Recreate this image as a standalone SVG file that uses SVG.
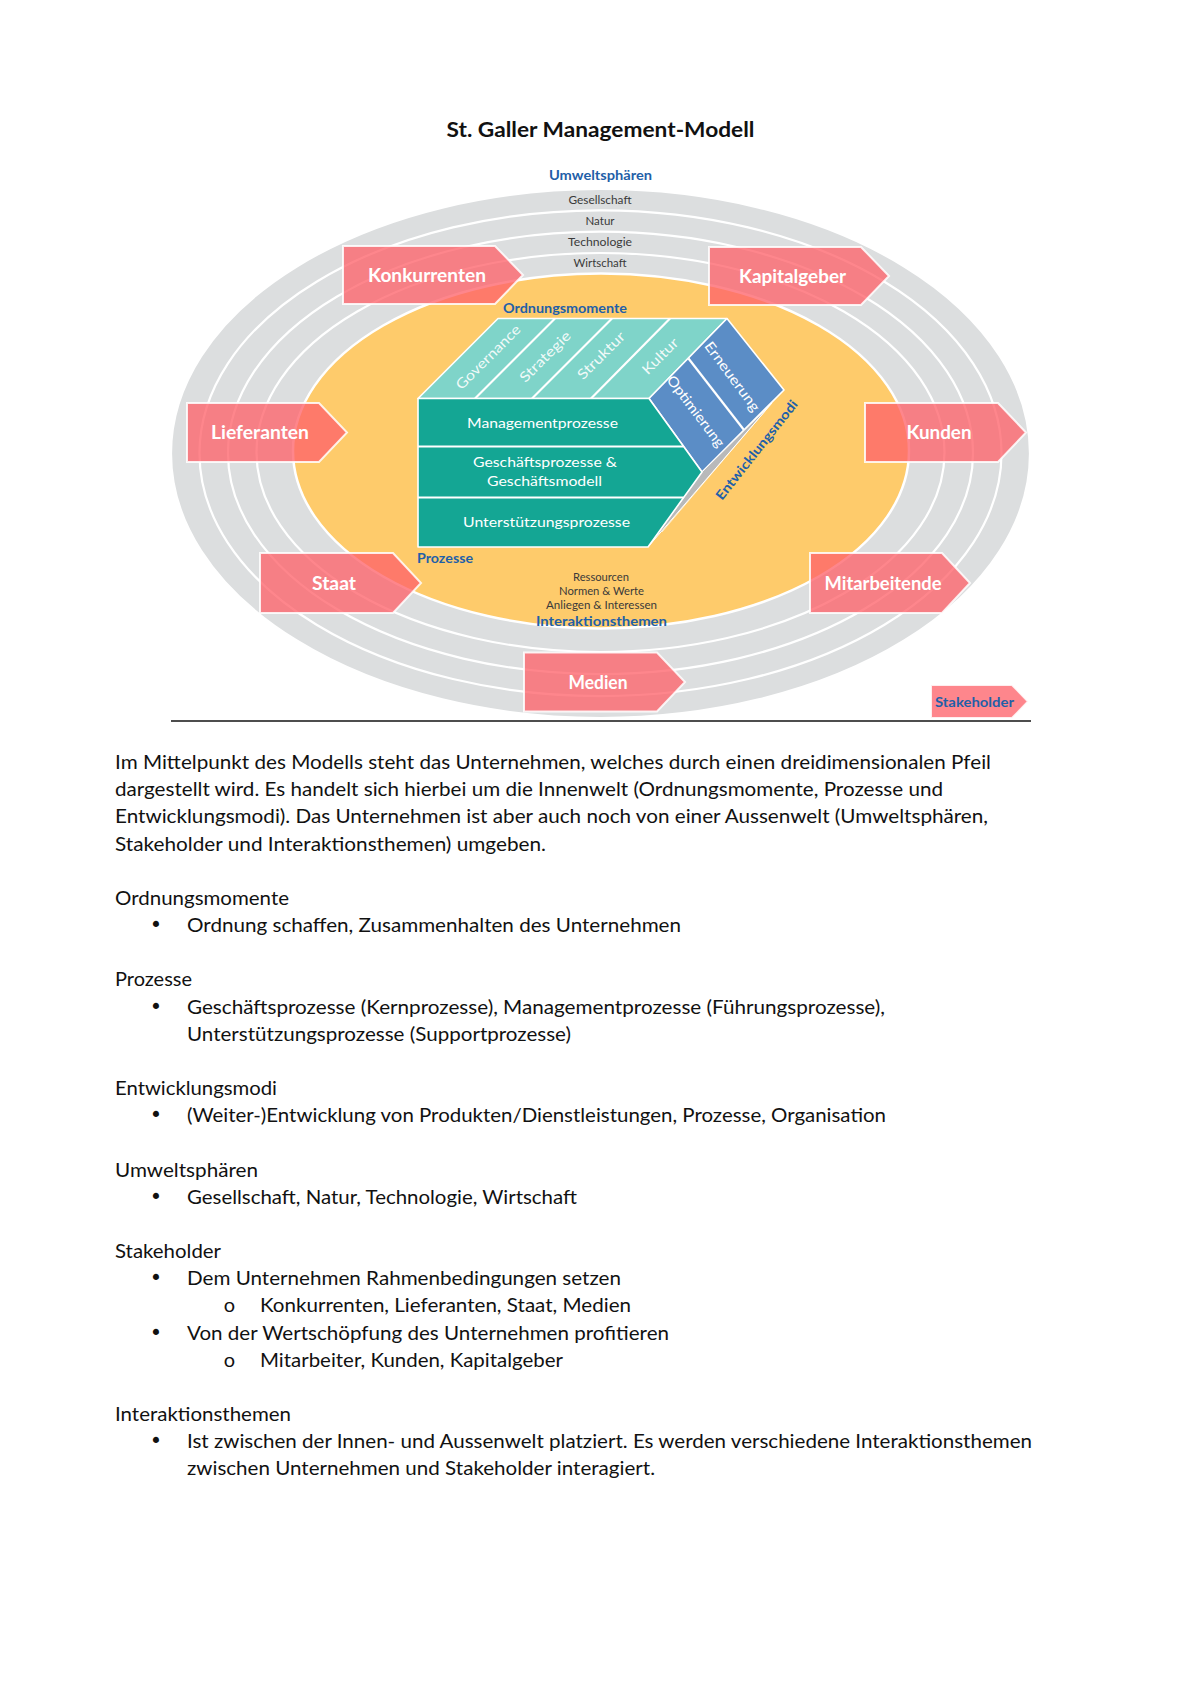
<svg xmlns="http://www.w3.org/2000/svg" width="1200" height="1698" viewBox="0 0 1200 1698">
<style>
  .ring{fill:#dcdedf;stroke:#ffffff;stroke-width:2.2}
  .sep{fill:none;stroke:#ffffff;stroke-width:2.2}
  .arrow{fill:#fe626a;fill-opacity:0.77;stroke:#ffffff;stroke-width:2;stroke-opacity:0.85}
  .alab{font-family:Lato,'Liberation Sans',sans-serif;font-weight:bold;font-size:18px;fill:#ffffff;text-anchor:middle}
  .blue{font-family:Lato,'Liberation Sans',sans-serif;font-weight:bold;font-size:13px;fill:#1f60a8;text-anchor:middle}
  .ringlab{font-family:Lato,'Liberation Sans',sans-serif;font-size:11px;fill:#3a3a3a;text-anchor:middle}
  .face{stroke:#ffffff;stroke-width:1.6;stroke-linejoin:round}
  .wline{stroke:#ffffff;stroke-width:2.2}
  .wtxt{font-family:Lato,'Liberation Sans',sans-serif;font-size:14px;fill:#ffffff;text-anchor:middle}
  .body{font-family:Lato,'Liberation Sans',sans-serif;font-size:20px;fill:#111111}
  .bul{font-family:'DejaVu Sans','Liberation Sans',sans-serif;font-size:21px;fill:#111111;text-anchor:middle}
</style>

<text x="600.5" y="137" font-family="Lato,'Liberation Sans',sans-serif" font-weight="bold" font-size="20" fill="#111111" text-anchor="middle" textLength="308" lengthAdjust="spacingAndGlyphs">St. Galler Management-Modell</text>

<g id="umweltsphaeren">
  <ellipse class="ring" cx="600.5" cy="453.5" rx="429.5" ry="264.5"/>
  <ellipse class="sep" cx="600.5" cy="453.2" rx="401" ry="242.9"/>
  <ellipse class="sep" cx="600.5" cy="452.9" rx="372.5" ry="221.2"/>
  <ellipse class="sep" cx="600.5" cy="452.5" rx="344" ry="199.5"/>
  <text class="blue" x="600.5" y="180" textLength="103" lengthAdjust="spacingAndGlyphs">Umweltsphären</text>
  <text class="ringlab" x="600" y="204" textLength="63" lengthAdjust="spacingAndGlyphs">Gesellschaft</text>
  <text class="ringlab" x="600" y="225" textLength="29" lengthAdjust="spacingAndGlyphs">Natur</text>
  <text class="ringlab" x="600" y="246" textLength="64" lengthAdjust="spacingAndGlyphs">Technologie</text>
  <text class="ringlab" x="600" y="267" textLength="53" lengthAdjust="spacingAndGlyphs">Wirtschaft</text>
</g>

<g id="interaktionsthemen">
  <ellipse cx="601" cy="451" rx="308" ry="177.5" fill="#fecb6b" stroke="#ffffff" stroke-width="2.5"/>
  <text class="ringlab" x="601" y="581" textLength="56" lengthAdjust="spacingAndGlyphs">Ressourcen</text>
  <text class="ringlab" x="601.5" y="595" textLength="85" lengthAdjust="spacingAndGlyphs">Normen &amp; Werte</text>
  <text class="ringlab" x="601.5" y="608.5" textLength="111" lengthAdjust="spacingAndGlyphs">Anliegen &amp; Interessen</text>
  <text class="blue" x="601.5" y="626" textLength="131" lengthAdjust="spacingAndGlyphs">Interaktionsthemen</text>
</g>

<g id="unternehmen">
  <text class="blue" x="565" y="313" textLength="124" lengthAdjust="spacingAndGlyphs">Ordnungsmomente</text>
  <g id="ordnungsmomente">
    <polygon class="face" points="418,398.5 498,318.5 727,318.5 649,398.5" fill="#7fd4c9"/>
    <line class="wline" x1="475" y1="398.5" x2="555" y2="318.5"/>
    <line class="wline" x1="532" y1="398.5" x2="612" y2="318.5"/>
    <line class="wline" x1="591" y1="398.5" x2="670" y2="318.5"/>
    <text class="wtxt" transform="translate(488,357) rotate(-45)" x="0" y="5" textLength="85" lengthAdjust="spacingAndGlyphs" fill-opacity="0.9">Governance</text>
    <text class="wtxt" transform="translate(545,356.5) rotate(-45)" x="0" y="5" textLength="66" lengthAdjust="spacingAndGlyphs" fill-opacity="0.9">Strategie</text>
    <text class="wtxt" transform="translate(601,355.5) rotate(-45)" x="0" y="5" textLength="61" lengthAdjust="spacingAndGlyphs" fill-opacity="0.9">Struktur</text>
    <text class="wtxt" transform="translate(660,356) rotate(-45)" x="0" y="5" textLength="45" lengthAdjust="spacingAndGlyphs" fill-opacity="0.9">Kultur</text>
  </g>
  <g id="entwicklungsmodi">
    <polygon class="face" points="649,398.5 727,318.5 784,390 702,472" fill="#5b8dc6"/>
    <line class="wline" x1="688.5" y1="358.5" x2="744" y2="430"/>
    <polygon points="648,547 702,472 772,403" fill="#b8b9ba" stroke="#ffffff" stroke-width="1"/>
    <line x1="662" y1="532" x2="765" y2="411" stroke="#ffffff" stroke-width="0.8" stroke-opacity="0.8"/>
    <text class="wtxt" font-size="13" transform="translate(732,376.7) rotate(53.4)" x="0" y="4.5" textLength="83" lengthAdjust="spacingAndGlyphs">Erneuerung</text>
    <text class="wtxt" font-size="13" transform="translate(695.5,411.5) rotate(53)" x="0" y="4.5" textLength="86" lengthAdjust="spacingAndGlyphs">Optimierung</text>
    <text class="blue" fill="#1a5599" transform="translate(756.7,450) rotate(-51.6)" x="0" y="4.5" textLength="123" lengthAdjust="spacingAndGlyphs">Entwicklungsmodi</text>
  </g>
  <g id="prozesse">
    <polygon class="face" points="418,398.5 649,398.5 702,472 648,547 418,547" fill="#14a694"/>
    <line class="wline" x1="418" y1="446.5" x2="683.5" y2="446.5" stroke-width="2.6"/>
    <line class="wline" x1="418" y1="497.5" x2="683.6" y2="497.5" stroke-width="2.6"/>
    <text class="wtxt" x="542.5" y="427.5" textLength="151" lengthAdjust="spacingAndGlyphs">Managementprozesse</text>
    <text class="wtxt" x="545" y="467" textLength="144" lengthAdjust="spacingAndGlyphs">Geschäftsprozesse &amp;</text>
    <text class="wtxt" x="544.5" y="486" textLength="115" lengthAdjust="spacingAndGlyphs">Geschäftsmodell</text>
    <text class="wtxt" x="546.5" y="526.5" textLength="167" lengthAdjust="spacingAndGlyphs">Unterstützungsprozesse</text>
    <text class="blue" x="445" y="563" textLength="56" lengthAdjust="spacingAndGlyphs">Prozesse</text>
  </g>
</g>

<g id="stakeholder-konkurrenten">
  <polygon class="arrow" points="343,246 495,246 523,275 495,304 343,304"/>
  <text class="alab" x="427" y="281.5" textLength="118" lengthAdjust="spacingAndGlyphs">Konkurrenten</text>
</g>
<g id="stakeholder-kapitalgeber">
  <polygon class="arrow" points="709,247 861,247 889,276 861,305 709,305"/>
  <text class="alab" x="792.5" y="282.5" textLength="107" lengthAdjust="spacingAndGlyphs">Kapitalgeber</text>
</g>
<g id="stakeholder-lieferanten">
  <polygon class="arrow" points="187,403 319,403 347,432.5 319,462 187,462"/>
  <text class="alab" x="260" y="439" textLength="98" lengthAdjust="spacingAndGlyphs">Lieferanten</text>
</g>
<g id="stakeholder-kunden">
  <polygon class="arrow" points="865,403 998,403 1026,432.5 998,462 865,462"/>
  <text class="alab" x="939" y="439" textLength="65" lengthAdjust="spacingAndGlyphs">Kunden</text>
</g>
<g id="stakeholder-staat">
  <polygon class="arrow" points="260,553 393,553 421,583 393,613 260,613"/>
  <text class="alab" x="334" y="589.5" textLength="44" lengthAdjust="spacingAndGlyphs">Staat</text>
</g>
<g id="stakeholder-mitarbeitende">
  <polygon class="arrow" points="810,553 942,553 970,583 942,613 810,613"/>
  <text class="alab" x="883" y="589.5" textLength="117" lengthAdjust="spacingAndGlyphs">Mitarbeitende</text>
</g>
<g id="stakeholder-medien">
  <polygon class="arrow" points="524,652.5 657,652.5 685,682 657,711.5 524,711.5"/>
  <text class="alab" x="598" y="688.5" textLength="59" lengthAdjust="spacingAndGlyphs">Medien</text>
</g>
<g id="legende-stakeholder">
  <polygon class="arrow" points="931,685 1012,685 1028,701.5 1012,718 931,718"/>
  <text class="blue" fill="#1d4f91" x="974.5" y="706.5" textLength="79" lengthAdjust="spacingAndGlyphs">Stakeholder</text>
</g>

<g id="connectors"></g>

<line x1="171" y1="721" x2="1031" y2="721" stroke="#4d4d4d" stroke-width="2"/>

<g id="beschreibung">
  <text class="body" x="115" y="769" textLength="876" lengthAdjust="spacingAndGlyphs">Im Mittelpunkt des Modells steht das Unternehmen, welches durch einen dreidimensionalen Pfeil</text>
  <text class="body" x="115" y="796.2" textLength="828" lengthAdjust="spacingAndGlyphs">dargestellt wird. Es handelt sich hierbei um die Innenwelt (Ordnungsmomente, Prozesse und</text>
  <text class="body" x="115" y="823.3" textLength="873" lengthAdjust="spacingAndGlyphs">Entwicklungsmodi). Das Unternehmen ist aber auch noch von einer Aussenwelt (Umweltsphären,</text>
  <text class="body" x="115" y="850.5" textLength="431" lengthAdjust="spacingAndGlyphs">Stakeholder und Interaktionsthemen) umgeben.</text>

  <text class="body" x="115" y="904.9" textLength="174" lengthAdjust="spacingAndGlyphs">Ordnungsmomente</text>
  <text class="bul" x="156" y="932.0">•</text>
  <text class="body" x="187" y="932.0" textLength="494" lengthAdjust="spacingAndGlyphs">Ordnung schaffen, Zusammenhalten des Unternehmen</text>

  <text class="body" x="115" y="986.4" textLength="77" lengthAdjust="spacingAndGlyphs">Prozesse</text>
  <text class="bul" x="156" y="1013.6">•</text>
  <text class="body" x="187" y="1013.6" textLength="698" lengthAdjust="spacingAndGlyphs">Geschäftsprozesse (Kernprozesse), Managementprozesse (Führungsprozesse),</text>
  <text class="body" x="187" y="1040.7" textLength="384" lengthAdjust="spacingAndGlyphs">Unterstützungsprozesse (Supportprozesse)</text>

  <text class="body" x="115" y="1095.0" textLength="162" lengthAdjust="spacingAndGlyphs">Entwicklungsmodi</text>
  <text class="bul" x="156" y="1122.2">•</text>
  <text class="body" x="187" y="1122.2" textLength="699" lengthAdjust="spacingAndGlyphs">(Weiter-)Entwicklung von Produkten/Dienstleistungen, Prozesse, Organisation</text>

  <text class="body" x="115" y="1176.6" textLength="143" lengthAdjust="spacingAndGlyphs">Umweltsphären</text>
  <text class="bul" x="156" y="1203.7">•</text>
  <text class="body" x="187" y="1203.7" textLength="390" lengthAdjust="spacingAndGlyphs">Gesellschaft, Natur, Technologie, Wirtschaft</text>

  <text class="body" x="115" y="1258.1" textLength="106" lengthAdjust="spacingAndGlyphs">Stakeholder</text>
  <text class="bul" x="156" y="1285.3">•</text>
  <text class="body" x="187" y="1285.3" textLength="434" lengthAdjust="spacingAndGlyphs">Dem Unternehmen Rahmenbedingungen setzen</text>
  <text class="body" x="229.5" y="1312.4" text-anchor="middle" font-size="16">o</text>
  <text class="body" x="260" y="1312.4" textLength="371" lengthAdjust="spacingAndGlyphs">Konkurrenten, Lieferanten, Staat, Medien</text>
  <text class="bul" x="156" y="1339.6">•</text>
  <text class="body" x="187" y="1339.6" textLength="482" lengthAdjust="spacingAndGlyphs">Von der Wertschöpfung des Unternehmen profitieren</text>
  <text class="body" x="229.5" y="1366.8" text-anchor="middle" font-size="16">o</text>
  <text class="body" x="260" y="1366.8" textLength="303" lengthAdjust="spacingAndGlyphs">Mitarbeiter, Kunden, Kapitalgeber</text>

  <text class="body" x="115" y="1421.1" textLength="176" lengthAdjust="spacingAndGlyphs">Interaktionsthemen</text>
  <text class="bul" x="156" y="1448.3">•</text>
  <text class="body" x="187" y="1448.3" textLength="845" lengthAdjust="spacingAndGlyphs">Ist zwischen der Innen- und Aussenwelt platziert. Es werden verschiedene Interaktionsthemen</text>
  <text class="body" x="187" y="1475.4" textLength="468" lengthAdjust="spacingAndGlyphs">zwischen Unternehmen und Stakeholder interagiert.</text>
</g>
</svg>
